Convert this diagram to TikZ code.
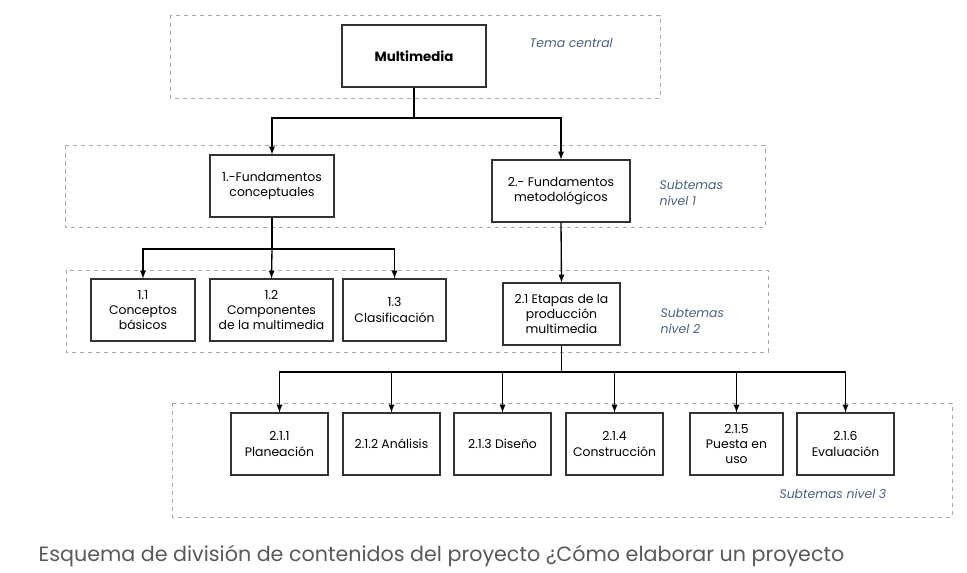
\documentclass[tikz,border=0pt]{standalone}
\usepackage{fontspec}
\setmainfont{Poppins}
\definecolor{lblc}{RGB}{72,96,130}
\begin{document}
\begin{tikzpicture}[x=0.75pt,y=-0.75pt,
  grp/.style={draw=gray!70,dashed,line width=0.6pt},
  bx/.style={draw=black!80,line width=0.8pt,fill=white,align=center,font=\fontsize{9.3}{11.3}\selectfont,inner sep=1pt},
  lbl/.style={text=lblc,font=\fontsize{9.3}{11.3}\selectfont\itshape,align=left,anchor=west},
  con/.style={line width=1pt,black},
  arr/.style={con,-latex}]
\useasboundingbox (0,0) rectangle (967,573);
\draw[grp] (170,15) rectangle (660,98);
\draw[grp] (65,145) rectangle (765,227);
\draw[grp] (66,270) rectangle (768,352);
\draw[grp] (172,403) rectangle (952,517);
\node[bx,minimum width=144pt*0.75,minimum height=62*0.75pt,font=\fontsize{10}{12}\selectfont\bfseries] (m) at (414,56) {Multimedia};
\node[lbl] (t0) at (525,43) {Tema central};
\node[bx,minimum width=124*0.75pt,minimum height=62*0.75pt] (f1) at (272,186) {1.-Fundamentos\\conceptuales};
\node[bx,minimum width=138*0.75pt,minimum height=62*0.75pt] (f2) at (561,191) {2.- Fundamentos\\metodológicos};
\node[lbl] (t1) at (655,193) {Subtemas\\nivel 1};
\node[bx,minimum width=104*0.75pt,minimum height=62*0.75pt] (a) at (143,310) {1.1\\Conceptos\\básicos};
\node[bx,minimum width=123*0.75pt,minimum height=62*0.75pt] (b) at (271.5,310) {1.2\\Componentes\\de la multimedia};
\node[bx,minimum width=103*0.75pt,minimum height=62*0.75pt] (c) at (394.5,310) {1.3\\Clasificación};
\node[bx,minimum width=117*0.75pt,minimum height=62*0.75pt] (d) at (561.5,314) {2.1 Etapas de la\\producción\\multimedia};
\node[lbl] (t2) at (656,321) {Subtemas\\nivel 2};
\foreach \n/\x/\w/\t in {e1/279.5/97/{2.1.1\\Planeación},e2/391.5/97/{2.1.2 Análisis},e3/502.5/97/{2.1.3 Diseño},e4/614.5/97/{2.1.4\\Construcción},e5/736.5/93/{2.1.5\\Puesta en\\uso},e6/845.5/97/{2.1.6\\Evaluación}}
  \node[bx,minimum width=\w*0.75pt,minimum height=62*0.75pt] (\n) at (\x,444) {\t};
\node[lbl,anchor=east] (t3) at (891,494) {Subtemas nivel 3};
\node[anchor=west,text=black!65,font=\fontsize{15.5}{18}\selectfont] (cap) at (34,556) {Esquema de división de contenidos del proyecto ¿Cómo elaborar un proyecto};
% connectors
\coordinate (j0) at (414,118);
\draw[con] (m.south) -- (j0);
\draw[arr] (j0) -| (f1.north);
\draw[arr] (j0) -| (f2.north);
\coordinate (j1) at (272,249);
\draw[con] (f1.south) -- (j1);
\draw[arr] (j1) -| (a.north);
\draw[arr] (j1) -- (b.north);
\draw[arr] (j1) -| (c.north);
\draw[arr] (f2.south) -- (d.north);
\coordinate (j2) at (561.5,372);
\draw[con] (d.south) -- (j2);
\foreach \n in {e1,e2,e3,e4,e5,e6} \draw[arr] (j2) -| (\n.north);
\end{tikzpicture}
\end{document}
